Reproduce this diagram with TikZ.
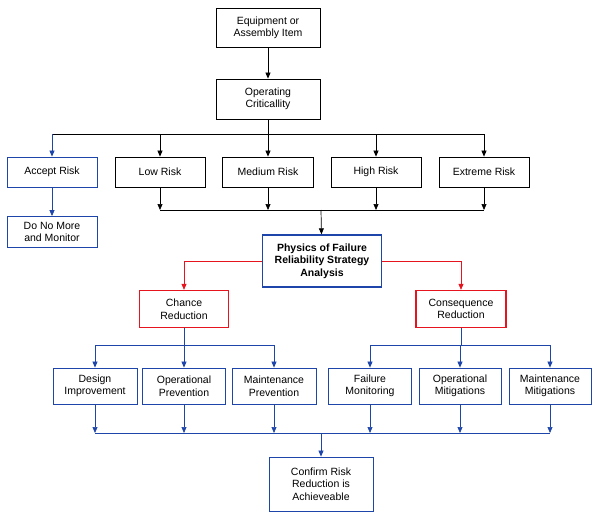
\documentclass[tikz,border=0pt]{standalone}
\usepackage{fontspec}
\setmainfont{Liberation Sans}
\usetikzlibrary{arrows.meta}
\definecolor{bl}{RGB}{30,70,170}
\definecolor{rd}{RGB}{230,20,30}
\begin{document}
\begin{tikzpicture}[x=1pt,y=-1pt,
  box/.style={draw=#1,line width=0.8pt,fill=white,align=center,inner sep=0pt,font=\fontsize{10.5}{12.5}\selectfont},
  box/.default=black,
  ar/.style={draw=#1,line width=0.7pt,-{Triangle[length=6pt,width=5pt]}},
  ln/.style={draw=#1,line width=0.7pt}]
\useasboundingbox (0,0) rectangle (600,519);
\node[box,minimum width=104,minimum height=39] (eq) at (268,28) {Equipment or\\Assembly Item};
\node[box,minimum width=104,minimum height=40] (oc) at (268,99) {Operating\\Criticallity};
\node[box=bl,minimum width=90,minimum height=30] (ac) at (52,172) {Accept Risk};
\node[box,minimum width=90,minimum height=30] (lo) at (160,172) {Low Risk};
\node[box,minimum width=91,minimum height=30] (me) at (268,172) {Medium Risk};
\node[box,minimum width=90,minimum height=30] (hi) at (376,172) {High Risk};
\node[box,minimum width=90,minimum height=30] (ex) at (484,172) {Extreme Risk};
\node[box=bl,minimum width=90,minimum height=31] (dn) at (52,232) {Do No More\\and Monitor};
\node[box=bl,line width=1.4pt,minimum width=119,minimum height=52,font=\fontsize{10.5}{12.5}\selectfont\bfseries] (ph) at (322,261) {Physics of Failure\\Reliability Strategy\\Analysis};
\node[box=rd,line width=1.4pt,minimum width=89,minimum height=37] (ch) at (184,309) {Chance\\Reduction};
\node[box=rd,line width=1.4pt,minimum width=90,minimum height=37] (co) at (461,309) {Consequence\\Reduction};
\node[box=bl,minimum width=84,minimum height=36] (d1) at (95,386) {Design\\Improvement};
\node[box=bl,minimum width=83,minimum height=36] (d2) at (184,386) {Operational\\Prevention};
\node[box=bl,minimum width=84,minimum height=36] (d3) at (274,386) {Maintenance\\Prevention};
\node[box=bl,minimum width=83,minimum height=36] (d4) at (370,386) {Failure\\Monitoring};
\node[box=bl,minimum width=82,minimum height=36] (d5) at (460,386) {Operational\\Mitigations};
\node[box=bl,minimum width=82,minimum height=36] (d6) at (550,386) {Maintenance\\Mitigations};
\node[box=bl,minimum width=104,minimum height=54] (cf) at (321,484) {Confirm Risk\\Reduction is\\Achieveable};
\coordinate (b1) at (268,134);
\coordinate (b2) at (321,210);
\draw[ar=black] (eq) -- (oc);
\draw[ln=black] (oc) -- (b1);
\draw[ln=black] (lo.north |- b1) -- (ex.north |- b1);
\draw[ln=black] (ac.north |- b1) -- (lo.north |- b1);
\foreach \n in {lo,me,hi,ex} \draw[ar=black] (\n.north |- b1) -- (\n.north);
\draw[ar=bl] (52,134) -- (ac.north);
\draw[ar=bl] (ac) -- (dn);
\draw[ln=black] (lo.south |- b2) -- (ex.south |- b2);
\foreach \n in {lo,me,hi,ex} \draw[ar=black] (\n.south) -- (\n.south |- b2);
\draw[ar=black] (b2) -- (ph);
\draw[ar=rd] (ph.west) -| (ch.north);
\draw[ar=rd] (ph.east) -| (co.north);
\coordinate (c1) at (184,345);
\coordinate (c2) at (461,345);
\draw[ln=bl] (ch) -- (c1);
\draw[ln=bl] (d1.north |- c1) -- (d3.north |- c1);
\foreach \n in {d1,d2,d3} \draw[ar=bl] (\n.north |- c1) -- (\n.north);
\draw[ln=bl] (co) -- (c2);
\draw[ln=bl] (d4.north |- c2) -- (d6.north |- c2);
\foreach \n in {d4,d5,d6} \draw[ar=bl] (\n.north |- c2) -- (\n.north);
\coordinate (c3) at (321,433);
\draw[ln=bl] (d1.south |- c3) -- (d6.south |- c3);
\foreach \n in {d1,d2,d3,d4,d5,d6} \draw[ar=bl] (\n.south) -- (\n.south |- c3);
\draw[ar=bl] (c3) -- (cf);
\end{tikzpicture}
\end{document}
